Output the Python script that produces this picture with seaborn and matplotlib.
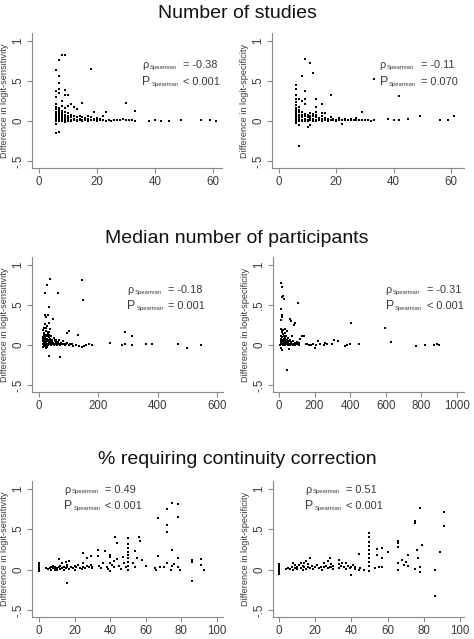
import matplotlib
matplotlib.use("Agg")
import matplotlib.pyplot as plt
import matplotlib.transforms as mtransforms
import seaborn as sns
import pandas as pd

# (x, difference) pairs
sens_by_studies = [
    (6, -0.15), (6, -0.03), (6, 0.0), (6, 0.02), (6, 0.04), (6, 0.06), (6, 0.08), (6, 0.10), (6, 0.12),
    (6, 0.15), (6, 0.18), (6, 0.22), (6, 0.30), (6, 0.38), (6, 0.64),
    (7, -0.13), (7, 0.0), (7, 0.01), (7, 0.03), (7, 0.05), (7, 0.07), (7, 0.09), (7, 0.11), (7, 0.14),
    (7, 0.17), (7, 0.35), (7, 0.40), (7, 0.47), (7, 0.56), (7, 0.76),
    (8, 0.0), (8, 0.02), (8, 0.04), (8, 0.06), (8, 0.08), (8, 0.10), (8, 0.13), (8, 0.19), (8, 0.25), (8, 0.83),
    (9, -0.01), (9, 0.01), (9, 0.03), (9, 0.05), (9, 0.08), (9, 0.11), (9, 0.16), (9, 0.32), (9, 0.39), (9, 0.82),
    (10, 0.0), (10, 0.02), (10, 0.04), (10, 0.07), (10, 0.10), (10, 0.19), (10, 0.33),
    (11, 0.0), (11, 0.02), (11, 0.05), (11, 0.08), (11, 0.22),
    (12, 0.01), (12, 0.03), (12, 0.06), (12, 0.18), (13, 0.0), (13, 0.02), (13, 0.05), (13, 0.15),
    (14, 0.01), (14, 0.03), (14, 0.06), (15, 0.0), (15, 0.02), (15, 0.05), (15, 0.23),
    (16, 0.01), (16, 0.04), (17, 0.0), (17, 0.03), (17, 0.06), (18, 0.02), (18, 0.05), (18, 0.65),
    (19, 0.01), (19, 0.03), (19, 0.11), (20, 0.0), (20, 0.02), (20, 0.04), (21, 0.01), (21, 0.03),
    (22, 0.02), (22, 0.07), (23, 0.0), (23, 0.11), (24, 0.01), (25, 0.0), (26, 0.02), (27, 0.01),
    (28, 0.02), (29, 0.03), (30, 0.01), (30, 0.23), (31, 0.02), (32, 0.01), (33, 0.0), (33, 0.13),
    (38, 0.0), (40, 0.01), (42, 0.0), (45, 0.0), (49, 0.02), (56, 0.01), (59, 0.01), (61, 0.0),
]

spec_by_studies = [
    (6, -0.02), (6, 0.0), (6, 0.02), (6, 0.04), (6, 0.06), (6, 0.08), (6, 0.10), (6, 0.12), (6, 0.14),
    (6, 0.17), (6, 0.20), (6, 0.24), (6, 0.28), (6, 0.32), (6, 0.40), (6, 0.45),
    (7, -0.31), (7, -0.05), (7, 0.0), (7, 0.02), (7, 0.04), (7, 0.06), (7, 0.08), (7, 0.11), (7, 0.14),
    (7, 0.18), (7, 0.27),
    (8, 0.0), (8, 0.02), (8, 0.05), (8, 0.08), (8, 0.12), (8, 0.25), (8, 0.56),
    (9, 0.0), (9, 0.03), (9, 0.06), (9, 0.09), (9, 0.21), (9, 0.28), (9, 0.37), (9, 0.77),
    (10, -0.07), (10, 0.0), (10, 0.02), (10, 0.05), (10, 0.08),
    (11, -0.05), (11, 0.01), (11, 0.04), (11, 0.07), (11, 0.10), (11, 0.72),
    (12, 0.0), (12, 0.03), (12, 0.06), (12, 0.09), (12, 0.60),
    (13, 0.0), (13, 0.02), (13, 0.05), (13, 0.08), (13, 0.12), (13, 0.18), (13, 0.27),
    (14, 0.01), (14, 0.04), (15, 0.0), (15, 0.03), (15, 0.06), (15, 0.10), (15, 0.22),
    (16, 0.01), (16, 0.04), (16, 0.10), (17, 0.0), (17, 0.03), (18, 0.02), (18, 0.05), (18, 0.33),
    (19, 0.01), (19, 0.03), (20, 0.0), (20, 0.02), (21, 0.01), (21, 0.04), (22, -0.04), (22, 0.02),
    (23, 0.01), (23, 0.03), (24, 0.02), (25, 0.01), (25, 0.03), (26, 0.02), (27, 0.01), (27, 0.04),
    (28, 0.02), (29, 0.01), (29, 0.11), (30, 0.02), (31, 0.01), (32, 0.0), (33, 0.01), (33, 0.53),
    (38, 0.03), (40, 0.01), (42, 0.01), (42, 0.31), (45, 0.03), (49, 0.06), (56, 0.01), (59, 0.01), (61, 0.07),
]

sens_by_participants = [
    (12, 0.02), (14, 0.05), (15, 0.10), (16, 0.0), (17, 0.03), (18, 0.07), (18, 0.15), (19, 0.12),
    (20, 0.01), (20, 0.04), (21, 0.09), (22, 0.02), (22, 0.18), (23, 0.06), (24, 0.0), (24, 0.13),
    (25, 0.03), (25, 0.21), (26, 0.08), (27, 0.01), (27, 0.05), (28, 0.11), (28, 0.24), (29, 0.02),
    (30, 0.07), (30, 0.16), (31, 0.0), (32, 0.04), (32, 0.10), (33, 0.02), (34, 0.06), (35, 0.13),
    (36, 0.01), (37, 0.03), (38, 0.08), (38, 0.20), (40, 0.0), (40, 0.05), (42, 0.02), (42, 0.11),
    (44, 0.04), (45, 0.07), (46, 0.01), (48, 0.03), (50, 0.0), (50, 0.09), (52, 0.02), (54, 0.05),
    (55, 0.01), (57, 0.03), (58, 0.07), (60, 0.0), (62, 0.02), (64, 0.04), (65, 0.01), (68, 0.06),
    (70, 0.02), (72, 0.0), (75, 0.03), (78, 0.01), (80, 0.05), (84, 0.02), (88, 0.0), (92, 0.01),
    (96, 0.03), (100, 0.0), (105, 0.02), (110, 0.01), (115, -0.01), (125, 0.0), (135, -0.01),
    (145, -0.02), (150, -0.01), (160, 0.0), (170, 0.02), (180, 0.0), (16, 0.22), (14, 0.19),
    (20, 0.26), (17, 0.13), (13, 0.08), (15, -0.02), (19, -0.01), (23, -0.03), (26, -0.02),
    (29, 0.14), (34, 0.17), (45, 0.01), (55, 0.06), (60, 0.04), (95, 0.15), (100, 0.18), (130, 0.13),
    (20, 0.65), (27, 0.75), (36, 0.83), (65, 0.65), (145, 0.81), (148, 0.56), (32, 0.47), (30, 0.38),
    (25, 0.35), (20, 0.38), (48, 0.33), (33, 0.27), (35, -0.14), (70, -0.15), (290, 0.17), (315, 0.11),
    (240, 0.03), (280, 0.0), (290, 0.01), (315, 0.0), (360, 0.02), (380, 0.02), (470, 0.01),
    (500, -0.03), (545, 0.0),
]

spec_by_participants = [
    (8, 0.0), (10, 0.03), (11, 0.08), (12, -0.04), (13, 0.05), (14, 0.12), (15, 0.01), (16, 0.06),
    (17, 0.17), (18, 0.02), (19, 0.10), (20, 0.0), (21, 0.04), (22, 0.14), (23, 0.07), (24, 0.01),
    (25, 0.03), (26, 0.11), (27, 0.05), (28, 0.0), (29, 0.08), (30, 0.02), (31, 0.15), (32, 0.04),
    (33, 0.01), (34, 0.06), (35, 0.09), (36, 0.0), (38, 0.03), (40, 0.12), (41, 0.05), (42, 0.01),
    (44, 0.07), (45, 0.02), (47, 0.04), (48, 0.0), (50, 0.09), (52, 0.03), (54, 0.01), (55, 0.05),
    (58, 0.02), (60, 0.0), (62, 0.06), (65, 0.03), (68, 0.01), (70, 0.04), (72, 0.12), (75, 0.02),
    (78, 0.0), (80, 0.05), (84, 0.01), (88, 0.03), (92, 0.0), (96, 0.02), (100, 0.04), (105, 0.01),
    (110, 0.0), (115, 0.03), (120, 0.08), (130, 0.12), (140, 0.11), (150, 0.02), (160, 0.01),
    (170, 0.0), (180, 0.0), (190, 0.02), (200, -0.03), (210, 0.0), (220, 0.05), (230, 0.01),
    (250, 0.0), (260, 0.03), (270, 0.02), (300, 0.01), (310, 0.06), (330, 0.05), (370, -0.01),
    (380, 0.0), (400, 0.01), (450, 0.01), (12, 0.20), (18, 0.18), (25, 0.19), (35, 0.20), (45, 0.18),
    (55, -0.05), (15, -0.06),
    (10, 0.77), (18, 0.72), (15, 0.60), (22, 0.61), (30, 0.57), (105, 0.53), (10, 0.45), (15, 0.35),
    (18, 0.38), (12, 0.31), (60, 0.33), (70, 0.30), (85, 0.25), (90, 0.27), (405, 0.28), (595, 0.21),
    (630, 0.04), (45, -0.31), (770, -0.01), (820, 0.0), (870, 0.0), (890, 0.01), (900, 0.0),
]

sens_by_correction = [
    (0, -0.02), (0, -0.01), (0, 0.0), (0, 0.01), (0, 0.02), (0, 0.03), (0, 0.04), (0, 0.05), (0, 0.06),
    (0, 0.07), (0, 0.08),
    (4, 0.02), (5, 0.01), (6, 0.02), (7, 0.03), (7, 0.0), (8, 0.02), (9, 0.01), (9, 0.04), (10, 0.02),
    (10, 0.0), (11, 0.13), (11, 0.03), (12, 0.01), (12, 0.05), (13, 0.02), (13, 0.08), (14, 0.0),
    (14, 0.04), (15, 0.02), (15, 0.10), (16, 0.03), (16, 0.06), (17, 0.01), (17, 0.11), (18, 0.04),
    (19, 0.02), (20, 0.0), (20, 0.05), (21, 0.03), (22, 0.06), (23, 0.02), (24, 0.01), (25, 0.04),
    (25, 0.09), (25, 0.21), (26, 0.02), (27, 0.05), (27, 0.14), (28, 0.03), (29, 0.17), (29, 0.06),
    (30, 0.02), (30, 0.04), (16, -0.16), (9, 0.0), (8, 0.05),
    (33, 0.24), (33, 0.17), (34, 0.05), (35, 0.02), (36, 0.08), (37, 0.23), (38, 0.04), (39, 0.01),
    (40, 0.18), (40, 0.16), (40, 0.09), (40, -0.02), (41, 0.06), (42, 0.11), (42, 0.03), (43, 0.40),
    (44, 0.33), (44, 0.13), (45, 0.05), (46, 0.01), (47, 0.16), (48, 0.08), (49, 0.04), (50, 0.39),
    (50, 0.32), (50, 0.27), (50, 0.22), (50, 0.18), (50, 0.14), (50, 0.10), (50, 0.05), (50, 0.0),
    (53, 0.08), (54, 0.23), (54, 0.03), (55, 0.15), (56, 0.40), (57, 0.36), (58, 0.12), (60, 0.05),
    (65, 0.02), (66, 0.0), (67, 0.64), (67, 0.17), (68, 0.04), (70, 0.03), (72, 0.75), (72, 0.56),
    (72, 0.47), (72, 0.08), (74, 0.0), (75, 0.83), (75, 0.25), (75, 0.05), (76, 0.07), (78, 0.81),
    (78, 0.65), (78, 0.14), (78, 0.04), (79, 0.0), (86, 0.12), (86, 0.10), (86, -0.14), (91, 0.13),
    (91, 0.06), (93, 0.0),
]

spec_by_correction = [
    (0, -0.05), (0, -0.03), (0, -0.01), (0, 0.0), (0, 0.01), (0, 0.02), (0, 0.03), (0, 0.04), (0, 0.05),
    (0, 0.06), (0, 0.07),
    (4, 0.01), (5, 0.02), (6, 0.01), (7, 0.03), (8, 0.0), (8, 0.09), (9, 0.02), (10, 0.04), (10, 0.01),
    (11, 0.06), (12, 0.02), (13, 0.0), (13, 0.05), (14, 0.08), (14, 0.03), (15, 0.01), (15, 0.11),
    (16, 0.04), (16, 0.07), (17, 0.14), (17, 0.02), (18, 0.05), (19, 0.01), (20, 0.03), (21, 0.06),
    (22, 0.02), (23, 0.04), (24, 0.0), (25, 0.09), (25, 0.03), (26, 0.05), (27, 0.02), (27, 0.11),
    (28, 0.04), (28, 0.15), (29, 0.07), (29, 0.03), (30, 0.01), (30, 0.05), (9, 0.06), (12, 0.08),
    (33, 0.12), (33, 0.07), (33, 0.02), (34, 0.05), (35, 0.09), (36, 0.03), (37, 0.08), (37, 0.01),
    (38, 0.05), (39, 0.02), (40, -0.07), (40, 0.04), (41, 0.06), (42, 0.03), (42, 0.01), (44, 0.20),
    (44, 0.0), (45, 0.02), (47, 0.0), (50, 0.45), (50, 0.40), (50, 0.35), (50, 0.30), (50, 0.25),
    (50, 0.20), (50, 0.15), (50, 0.10), (50, 0.05), (50, -0.01), (53, 0.02), (54, 0.26), (54, 0.18),
    (55, 0.03), (57, 0.27), (57, 0.14), (57, 0.03), (60, 0.22),
    (66, 0.36), (66, 0.33), (66, 0.28), (66, 0.08), (66, 0.0), (68, 0.12), (69, 0.06), (70, 0.10),
    (71, 0.18), (71, 0.05), (75, 0.61), (75, 0.58), (75, 0.01), (76, 0.25), (77, 0.14), (78, 0.77),
    (78, 0.03), (78, -0.03), (79, 0.31), (86, 0.0), (86, -0.32), (89, 0.22), (91, 0.71), (91, 0.54),
]

row_titles = ["Number of studies", "Median number of participants", "% requiring continuity correction"]
y_labels = ["Difference in logit-sensitivity", "Difference in logit-specificity"]
rho_values = ["-0.38", "-0.11", "-0.18", "-0.31", "0.49", "0.51"]
p_values = ["< 0.001", "= 0.070", "= 0.001", "< 0.001", "< 0.001", "< 0.001"]
x_ticks = [[0, 20, 40, 60], [0, 20, 40, 60], [0, 200, 400, 600],
           [0, 200, 400, 600, 800, 1000], [0, 20, 40, 60, 80, 100], [0, 20, 40, 60, 80, 100]]
y_ticks = [-0.5, 0, 0.5, 1]
y_tick_labels = ["-.5", "0", ".5", "1"]

sns.set_style("white")
plt.rcParams["font.family"] = ["Liberation Sans", "DejaVu Sans"]

W, H = 474, 639
fig = plt.figure(figsize=(W / 100, H / 100), dpi=100)

# pixel boxes (left, right, top, bottom) of each panel
boxes = [(32, 222, 33, 168), (272, 464, 33, 168),
         (32, 223, 257, 392), (273, 464, 257, 392),
         (32, 223, 481, 617), (273, 464, 481, 617)]
xlims = [(-2.4, 63.1), (-2.4, 64.5), (-23.6, 620), (-33.7, 1039), (-3.9, 103.4), (-3.3, 102.2)]
text_x = [0.58, 0.56, 0.50, 0.59, 0.17, 0.17]
text_y = [(0.76, 0.635), (0.76, 0.635), (0.755, 0.635), (0.755, 0.635), (0.935, 0.815), (0.935, 0.815)]
panels = [sens_by_studies, spec_by_studies, sens_by_participants,
          spec_by_participants, sens_by_correction, spec_by_correction]

grey = "#8a8a8a"
txt = "#3a3a3a"

for i, pts in enumerate(panels):
    l, r, t, b = boxes[i]
    ax = fig.add_axes([l / W, 1 - b / H, (r - l) / W, (b - t) / H])
    df = pd.DataFrame(pts, columns=["x", "diff"])
    sns.scatterplot(data=df, x="x", y="diff", ax=ax, marker="s", s=2.5,
                    color="black", linewidth=0, legend=False)
    ax.set_xlim(*xlims[i])
    ax.set_ylim(-0.585, 1.10)
    ax.set_xticks(x_ticks[i])
    ax.set_yticks(y_ticks)
    ax.set_yticklabels(y_tick_labels, rotation=90, va="center")
    ax.set_xlabel("")
    ax.set_ylabel(y_labels[i % 2], fontsize=6.6, color=txt)
    ax.yaxis.set_label_coords(-0.12, 0.5)
    for s in ["top", "right"]:
        ax.spines[s].set_visible(False)
    for s in ["left", "bottom"]:
        ax.spines[s].set_color(grey)
        ax.spines[s].set_linewidth(0.8)
    ax.tick_params(axis="both", direction="out", length=3.5, width=0.8, color=grey,
                   labelsize=8.3, labelcolor=txt, pad=2, left=True, bottom=True)

    # rho / P annotation with small "Spearman" subscript
    x0 = text_x[i]
    y1, y2 = text_y[i]
    sub1 = mtransforms.offset_copy(ax.transAxes, fig=fig, x=7, y=-2, units="dots")
    sub2 = mtransforms.offset_copy(ax.transAxes, fig=fig, x=9, y=-2, units="dots")
    val = mtransforms.offset_copy(ax.transAxes, fig=fig, x=41, y=0, units="dots")
    ax.text(x0, y1, "ρ", transform=ax.transAxes, fontsize=7.8, color=txt, va="center")
    ax.text(x0, y1, "Spearman", transform=sub1, fontsize=4.2, color=txt, va="center")
    ax.text(x0, y1, "= " + rho_values[i], transform=val, fontsize=7.9, color=txt, va="center")
    ax.text(x0, y2, "P", transform=ax.transAxes, fontsize=8.8, color=txt, va="center")
    ax.text(x0, y2, "Spearman", transform=sub2, fontsize=4.2, color=txt, va="center")
    ax.text(x0, y2, p_values[i], transform=val, fontsize=7.9, color=txt, va="center")

for k, title in enumerate(row_titles):
    yc = [13, 238, 460][k]
    fig.text(0.5, 1 - yc / H, title, ha="center", va="center", fontsize=14, color="#111111")

fig.savefig("out.png", dpi=100)
